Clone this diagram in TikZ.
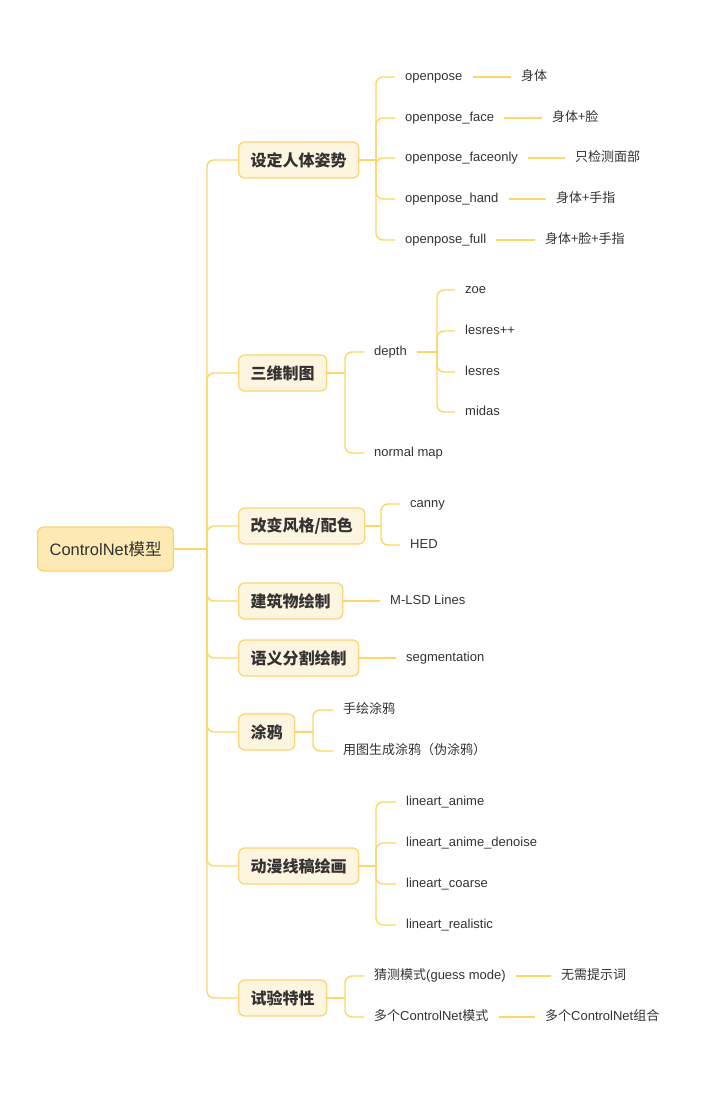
\documentclass[tikz,border=0pt]{standalone}
\usepackage{fontspec}
\setmainfont{Liberation Sans}
\newfontfamily\cjk{Noto Sans CJK SC}
\newcommand\zh[1]{{\cjk #1}}
\definecolor{lineY}{HTML}{FCD666}
\definecolor{rootF}{HTML}{FDE9B3}
\definecolor{rootB}{HTML}{F9D46E}
\definecolor{catF}{HTML}{FEF5E0}
\definecolor{catB}{HTML}{FBD674}
\definecolor{txt}{HTML}{333333}
\begin{document}
\begin{tikzpicture}[x=1pt,y=-1pt,
 line/.style={draw=lineY, line width=1.4pt, rounded corners=7pt},
 rootbox/.style={draw=rootB, fill=rootF, line width=1.3pt, rounded corners=6pt, inner xsep=12pt, minimum height=44pt, font=\fontsize{16.5}{20}\selectfont, text=txt, anchor=west},
 catbox/.style={draw=catB, fill=catF, line width=1.3pt, rounded corners=6pt, inner xsep=12pt, minimum height=36pt, font=\fontsize{16}{19}\selectfont\bfseries, text=txt, anchor=west},
 leaf/.style={inner xsep=10pt, inner ysep=2pt, text height=9.5pt, text depth=3pt, font=\fontsize{13}{16}\selectfont, text=txt, anchor=west},
]
\useasboundingbox (0,0) rectangle (720,1102);
\fill[white] (0,0) rectangle (720,1102);

% root
\node[rootbox] (root) at (37,549) {ControlNet\zh{模型}};
\coordinate (rj) at (207,549);

% categories
\node[catbox] (c1) at (238,160) {\zh{设定人体姿势}};
\node[catbox] (c2) at (238,373) {\zh{三维制图}};
\node[catbox] (c3) at (238,526) {\zh{改变风格/配色}};
\node[catbox] (c4) at (238,601) {\zh{建筑物绘制}};
\node[catbox] (c5) at (238,658) {\zh{语义分割绘制}};
\node[catbox] (c6) at (238,732) {\zh{涂鸦}};
\node[catbox] (c7) at (238,866) {\zh{动漫线稿绘画}};
\node[catbox] (c8) at (238,998) {\zh{试验特性}};

\draw[line] (root.east) -- (rj);
\foreach \c in {c1,c2,c3,c4,c5,c6,c7,c8}{
  \draw[line] (rj) |- (\c.west);
}

% group 1
\coordinate (j1) at (376,160);
\node[leaf] (l11) at (395,77) {openpose};
\node[leaf] (l12) at (395,118) {openpose\_face};
\node[leaf] (l13) at (395,158) {openpose\_faceonly};
\node[leaf] (l14) at (395,199) {openpose\_hand};
\node[leaf] (l15) at (395,240) {openpose\_full};
\node[leaf] (s11) at (511,77) {\zh{身体}};
\node[leaf] (s12) at (542,118) {\zh{身体+脸}};
\node[leaf] (s13) at (565,158) {\zh{只检测面部}};
\node[leaf] (s14) at (546,199) {\zh{身体+手指}};
\node[leaf] (s15) at (535,240) {\zh{身体+脸+手指}};
\draw[line] (c1.east) -- (j1);
\foreach \i in {1,...,5}{
  \draw[line] (j1) |- (l1\i.west);
  \draw[line] (l1\i.east) -- (s1\i.west);
}

% group 2
\coordinate (j2) at (345,373);
\node[leaf] (dep) at (364,352) {depth};
\node[leaf] (nm) at (364,453) {normal map};
\coordinate (j2b) at (437,352);
\node[leaf] (z1) at (455,290) {zoe};
\node[leaf] (z2) at (455,331) {lesres++};
\node[leaf] (z3) at (455,372) {lesres};
\node[leaf] (z4) at (455,412) {midas};
\draw[line] (c2.east) -- (j2);
\draw[line] (j2) |- (dep.west);
\draw[line] (j2) |- (nm.west);
\draw[line] (dep.east) -- (j2b);
\foreach \i in {1,...,4}{
  \draw[line] (j2b) |- (z\i.west);
}

% group 3
\coordinate (j3) at (381,526);
\node[leaf] (ca) at (400,504) {canny};
\node[leaf] (hed) at (400,545) {HED};
\draw[line] (c3.east) -- (j3);
\draw[line] (j3) |- (ca.west);
\draw[line] (j3) |- (hed.west);

% group 4
\node[leaf] (ml) at (380,601) {M-LSD Lines};
\draw[line] (c4.east) -- (ml.west);

% group 5
\node[leaf] (seg) at (396,658) {segmentation};
\draw[line] (c5.east) -- (seg.west);

% group 6
\coordinate (j6) at (313,732);
\node[leaf] (t1) at (333,710) {\zh{手绘涂鸦}};
\node[leaf] (t2) at (333,751) {\zh{用图生成涂鸦（伪涂鸦）}};
\draw[line] (c6.east) -- (j6);
\draw[line] (j6) |- (t1.west);
\draw[line] (j6) |- (t2.west);

% group 7
\coordinate (j7) at (376,866);
\node[leaf] (a1) at (396,802) {lineart\_anime};
\node[leaf] (a2) at (396,843) {lineart\_anime\_denoise};
\node[leaf] (a3) at (396,884) {lineart\_coarse};
\node[leaf] (a4) at (396,925) {lineart\_realistic};
\draw[line] (c7.east) -- (j7);
\foreach \i in {1,...,4}{
  \draw[line] (j7) |- (a\i.west);
}

% group 8
\coordinate (j8) at (345,998);
\node[leaf] (g1) at (364,976) {\zh{猜测模式}(guess mode)};
\node[leaf] (g2) at (364,1017) {\zh{多个}ControlNet\zh{模式}};
\node[leaf] (h1) at (551,976) {\zh{无需提示词}};
\node[leaf] (h2) at (535,1017) {\zh{多个}ControlNet\zh{组合}};
\draw[line] (c8.east) -- (j8);
\draw[line] (j8) |- (g1.west);
\draw[line] (j8) |- (g2.west);
\draw[line] (g1.east) -- (h1.west);
\draw[line] (g2.east) -- (h2.west);
\end{tikzpicture}
\end{document}
